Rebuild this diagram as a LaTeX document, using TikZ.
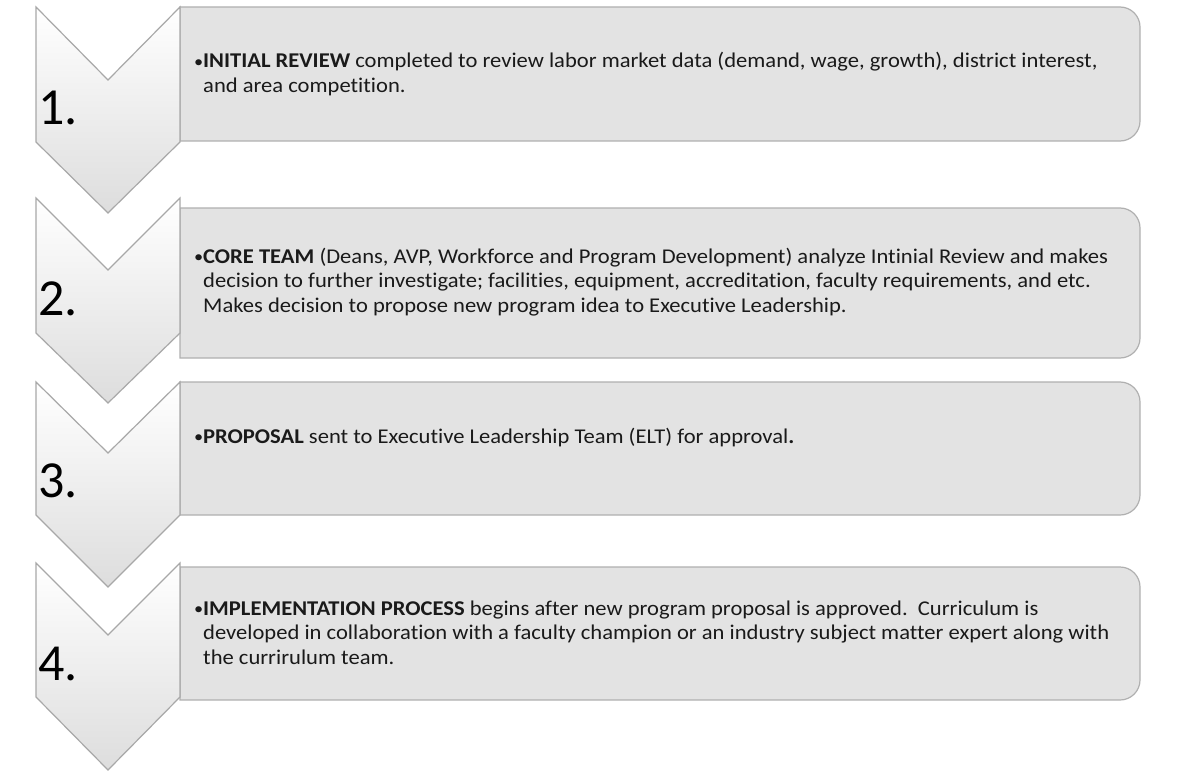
\documentclass[tikz,border=0pt]{standalone}
\usepackage{fontspec}
\setmainfont{Carlito}
\newfontfamily\bodyfont[FakeStretch=1.075, Ligatures={NoCommon}]{Carlito}
\definecolor{boxfill}{HTML}{E3E3E3}
\definecolor{boxline}{HTML}{B0B0B0}
\definecolor{chevline}{HTML}{A8A8A8}
\definecolor{chevbottom}{HTML}{DDDDDD}
\definecolor{txt}{HTML}{1A1A1A}
\tikzset{
  boxshape/.style={fill=boxfill, draw=boxline, line width=1.2pt},
  chevshape/.style={draw=chevline, line width=1.2pt, top color=white, middle color=white, bottom color=chevbottom},
  numtext/.style={anchor=base west, inner sep=0pt, font=\fontsize{52}{52}\selectfont, text=black},
  bodytext/.style={anchor=base west, inner sep=0pt, font=\bodyfont\fontsize{21}{24.6}\selectfont, text=txt},
}
\newcommand{\stepbox}[2]{% top, bottom
  \path[boxshape] (180,-#1) -- (1120,-#1) arc[start angle=90, end angle=0, radius=20pt]
    -- (1140,-#2+20) arc[start angle=0, end angle=-90, radius=20pt] -- (180,-#2) -- cycle;}
\newcommand{\chev}[4]{% top notch shoulder tip
  \path[chevshape] (36,-#1) -- (108,-#2) -- (180,-#1) -- (180,-#3) -- (108,-#4) -- (36,-#3) -- cycle;}
\newcommand{\bul}{\makebox[9pt][l]{\raisebox{0.8pt}{\fontsize{17}{17}\selectfont•}}}
\begin{document}
\begin{tikzpicture}[x=1pt,y=1pt]
\useasboundingbox (0,0) rectangle (1200,-781);
\fill[white] (0,0) rectangle (1200,-781);
% boxes
\stepbox{7}{141}
\stepbox{208}{358}
\stepbox{382}{515}
\stepbox{567}{700}
% chevrons
\chev{7}{80}{142}{213}
\chev{198}{270}{333}{403}
\chev{382}{453}{515}{587}
\chev{563}{635}{697}{770}
% numbers
\node[numtext] (n1) at (38,-125) {1.};
\node[numtext] (n2) at (38,-315) {2.};
\node[numtext] (n3) at (38,-497) {3.};
\node[numtext] (n4) at (38,-680) {4.};
% texts
\node[bodytext] (t1) at (194,-68) {\parbox[t]{940pt}{\hangindent=9pt\hangafter=1 \bul\textbf{INITIAL REVIEW} completed to review labor market data (demand, wage, growth), district interest,\\ and area competition.}};
\node[bodytext] (t2) at (194,-263) {\parbox[t]{940pt}{\hangindent=9pt\hangafter=1 \bul\textbf{CORE TEAM} (Deans, AVP, Workforce and Program Development) analyze Intinial Review and makes\\ decision to further investigate; facilities, equipment, accreditation, faculty requirements, and etc.\\ Makes decision to propose new program idea to Executive Leadership.}};
\node[bodytext] (t3) at (194,-443) {\parbox[t]{940pt}{\hangindent=9pt\hangafter=1 \bul\textbf{PROPOSAL} sent to Executive Leadership Team (ELT) for approval\textbf{.}}};
\node[bodytext] (t4) at (194,-615) {\parbox[t]{940pt}{\hangindent=9pt\hangafter=1 \bul\textbf{IMPLEMENTATION PROCESS} begins after new program proposal is approved.\ \ Curriculum is\\ developed in collaboration with a faculty champion or an industry subject matter expert along with\\ the currirulum team.}};
\end{tikzpicture}
\end{document}
